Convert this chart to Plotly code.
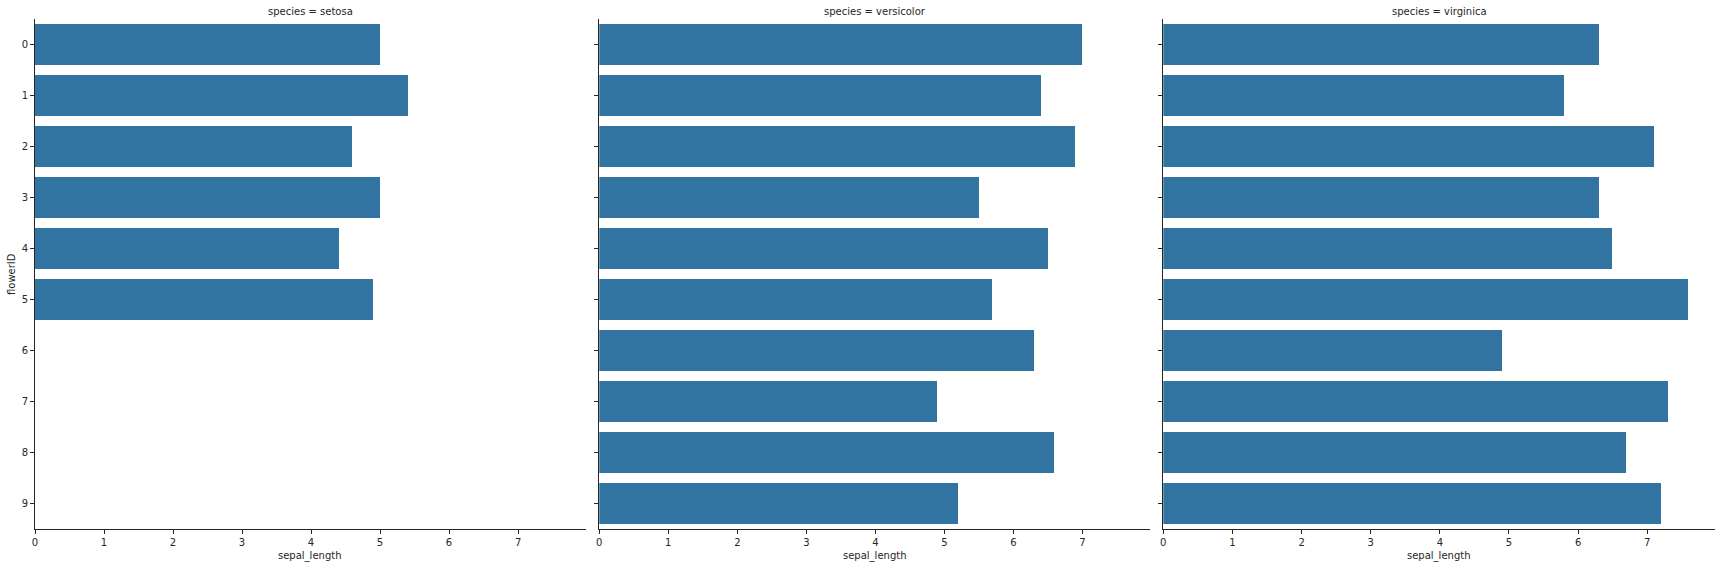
import plotly.graph_objects as go

# ---- data ----
species = ["setosa", "versicolor", "virginica"]
setosa_ids = [0, 1, 2, 3, 4, 5]
setosa_len = [5.0, 5.4, 4.6, 5.0, 4.4, 4.9]
versicolor_ids = [0, 1, 2, 3, 4, 5, 6, 7, 8, 9]
versicolor_len = [7.0, 6.4, 6.9, 5.5, 6.5, 5.7, 6.3, 4.9, 6.6, 5.2]
virginica_ids = [0, 1, 2, 3, 4, 5, 6, 7, 8, 9]
virginica_len = [6.3, 5.8, 7.1, 6.3, 6.5, 7.6, 4.9, 7.3, 6.7, 7.2]
y_ticks = [0, 1, 2, 3, 4, 5, 6, 7, 8, 9]
x_ticks = [0, 1, 2, 3, 4, 5, 6, 7]
x_title = "sepal_length"
y_title = "flowerID"

series = [(setosa_ids, setosa_len), (versicolor_ids, versicolor_len), (virginica_ids, virginica_len)]

BAR = "#3274a1"
INK = "#262626"
FONT = "DejaVu Sans"

W, H = 1720, 568
ML, MR, MT, MB = 35, 5, 18.5, 38.7
pw = W - ML - MR
ph = H - MT - MB
panels_px = [(35, 585.7), (599.3, 1150), (1163.3, 1715)]
domains = [[(a - ML) / pw, min(1.0, (b - ML) / pw)] for a, b in panels_px]

fig = go.Figure()
for i, (ids, vals) in enumerate(series):
    sfx = "" if i == 0 else str(i + 1)
    fig.add_trace(go.Bar(
        x=vals, y=ids, orientation="h", width=0.8,
        marker=dict(color=BAR, line=dict(width=0)),
        xaxis="x" + sfx, yaxis="y" + sfx, showlegend=False,
        hoverinfo="x+y",
    ))

layout = dict(
    width=W, height=H,
    margin=dict(l=ML, r=MR, t=MT, b=MB, autoexpand=False),
    paper_bgcolor="white", plot_bgcolor="white",
    font=dict(family=FONT, size=10, color=INK),
    bargap=0,
)

txt = dict(family=FONT, size=10, color=INK)
annotations = []
for i, sp in enumerate(species):
    sfx = "" if i == 0 else str(i + 1)
    layout["xaxis" + sfx] = dict(
        domain=domains[i], anchor="y" + sfx, range=[0, 7.98],
        tickmode="array", tickvals=x_ticks,
        ticks="outside", ticklen=4, tickwidth=1, tickcolor=INK,
        showline=True, linecolor=INK, linewidth=1,
        showgrid=False, zeroline=False, automargin=False,
        tickfont=txt,
    )
    ydict = dict(
        anchor="x" + sfx, domain=[0, 1], range=[9.5, -0.5],
        tickmode="array", tickvals=y_ticks, ticktext=[str(v) for v in y_ticks],
        ticks="outside", ticklen=4, tickwidth=1, tickcolor=INK,
        showline=True, linecolor=INK, linewidth=1,
        showgrid=False, zeroline=False, automargin=False,
        tickfont=txt,
        showticklabels=(i == 0),
    )
    if i > 0:
        ydict["matches"] = "y"
    layout["yaxis" + sfx] = ydict
    cx = (domains[i][0] + domains[i][1]) / 2
    annotations.append(dict(
        text="species = " + sp, xref="paper", yref="paper",
        x=cx, y=1 + (MT - 11.3) / ph,
        xanchor="center", yanchor="middle", showarrow=False, font=txt,
    ))
    annotations.append(dict(
        text=x_title, xref="paper", yref="paper",
        x=cx, y=-(556.7 - (H - MB)) / ph,
        xanchor="center", yanchor="middle", showarrow=False, font=txt,
    ))
annotations.append(dict(
    text=y_title, xref="paper", yref="paper",
    x=-(ML - 11) / pw, y=0.5, textangle=-90,
    xanchor="center", yanchor="middle", showarrow=False, font=txt,
))
layout["annotations"] = annotations
fig.update_layout(**layout)

fig.write_html(
    "out.html",
    config={"displayModeBar": False},
    post_script="document.body.style.margin='0';document.body.style.overflow='hidden';",
)
